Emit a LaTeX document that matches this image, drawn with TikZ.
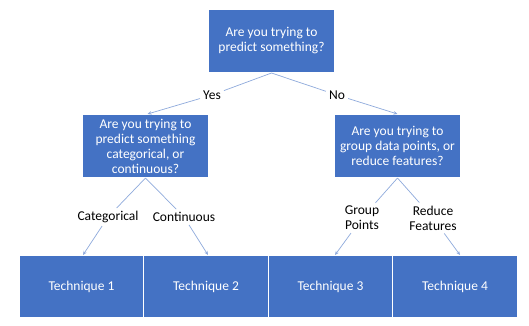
\documentclass[tikz,border=0pt]{standalone}
\usepackage{fontspec}
\setmainfont{Carlito}
\usetikzlibrary{arrows.meta}
\definecolor{boxblue}{HTML}{4472C4}
\definecolor{linkblue}{HTML}{8FAADC}
\begin{document}
\begin{tikzpicture}[x=1pt,y=-1pt,
  qbox/.style={rectangle, fill=boxblue, draw=white, line width=1pt, text=white,
    minimum width=126pt, minimum height=63pt, align=center, inner sep=1pt,
    font=\fontsize{13.5}{15}\selectfont},
  tbox/.style={qbox, minimum width=124.5pt, minimum height=62pt},
  lbl/.style={align=center, inner sep=3pt, font=\fontsize{13.5}{15}\selectfont},
  link/.style={draw=linkblue, line width=0.7pt},
  arr/.style={link, -{Stealth[length=4pt,width=3.5pt]}}]
\useasboundingbox (0,0) rectangle (529,325);
\fill[white] (0,0) rectangle (529,325);
% question boxes
\node[qbox] (top) at (271.5,41) {Are you trying to\\predict something?};
\node[qbox] (left) at (145.5,146) {Are you trying to\\predict something\\categorical, or\\continuous?};
\node[qbox] (right) at (397.5,146) {Are you trying to\\group data points, or\\reduce features?};
% technique boxes
\node[tbox] (t1) at (81.5,286.5) {Technique 1};
\node[tbox] (t2) at (206,286.5) {Technique 2};
\node[tbox] (t3) at (330.5,286.5) {Technique 3};
\node[tbox] (t4) at (455,286.5) {Technique 4};
% labels
\node[lbl] (yes) at (212,95) {Yes};
\node[lbl] (no) at (337,95) {No};
\node[lbl] (cat) at (108,217) {Categorical};
\node[lbl] (con) at (184,217) {Continuous};
\node[lbl] (grp) at (362,218) {Group\\Points};
\node[lbl] (red) at (433,218) {Reduce\\Features};
% connectors
\draw[link] (top.south) -- (yes);
\draw[arr] (yes) -- ([xshift=2pt]left.north);
\draw[link] (top.south) -- (no);
\draw[arr] (no) -- (right.north);
\draw[link] (left.south) -- (cat);
\draw[arr] (cat) -- ([xshift=1.5pt]t1.north);
\draw[link] (left.south) -- (con);
\draw[arr] (con) -- ([xshift=2pt]t2.north);
\draw[link] (right.south) -- (grp);
\draw[arr] (grp) -- ([xshift=4.5pt]t3.north);
\draw[link] (right.south) -- (red);
\draw[arr] (red) -- ([xshift=5pt]t4.north);
\end{tikzpicture}
\end{document}
